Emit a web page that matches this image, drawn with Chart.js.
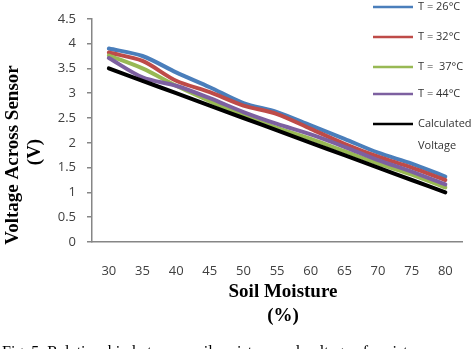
<!DOCTYPE html>
<html>
<head>
<meta charset="utf-8">
<script src="https://cdn.jsdelivr.net/npm/chart.js@4/dist/chart.umd.min.js"></script>
<style>
  html, body { margin: 0; padding: 0; background: #fff; overflow: hidden; }
  #wrap { width: 474px; height: 349px; }
</style>
</head>
<body>
<div id="wrap"><canvas id="moisture-chart" width="474" height="349"></canvas></div>
<script>
// soil moisture (%) on the x axis
const moisture = ["30", "35", "40", "45", "50", "55", "60", "65", "70", "75", "80"];
const yTicks = [0, 0.5, 1, 1.5, 2, 2.5, 3, 3.5, 4, 4.5];

// measured sensor voltage at each temperature (V)
const t26 = [3.9, 3.75, 3.42, 3.12, 2.8, 2.62, 2.35, 2.08, 1.8, 1.58, 1.32];
const t32 = [3.82, 3.65, 3.25, 3.02, 2.75, 2.58, 2.28, 1.98, 1.72, 1.5, 1.25];
const t37 = [3.76, 3.5, 3.15, 2.84, 2.55, 2.3, 2.08, 1.83, 1.58, 1.36, 1.1];
const t44 = [3.71, 3.32, 3.15, 2.9, 2.62, 2.38, 2.17, 1.92, 1.65, 1.42, 1.16];
const calculated = [3.5, 3.25, 3.0, 2.75, 2.5, 2.25, 2.0, 1.75, 1.5, 1.25, 1.0];

const seriesNames = ["T = 26°C", "T = 32°C", "T =  37°C", "T = 44°C", ["Calculated", "Voltage"]];
const seriesColors = ["#4a7ebb", "#be4b48", "#98b954", "#7d60a0", "#000000"];
const seriesData = [t26, t32, t37, t44, calculated];

function makeDataset(i) {
  return {
    label: Array.isArray(seriesNames[i]) ? seriesNames[i].join(" ") : seriesNames[i],
    data: seriesData[i],
    borderColor: seriesColors[i],
    borderWidth: 4,
    borderCapStyle: "round",
    borderJoinStyle: "round",
    pointRadius: 0,
    tension: 0.3,
    fill: false,
    order: seriesData.length - i
  };
}

// legend, axis titles and caption drawn straight onto the canvas
const decorations = {
  id: "decorations",
  afterDraw(chart) {
    const ctx = chart.ctx;
    ctx.save();

    // legend in the top-right corner
    const legendY = [7, 37, 67, 94, 124];
    ctx.font = "11px 'Open Sans'";
    ctx.textBaseline = "middle";
    ctx.textAlign = "left";
    seriesNames.forEach((name, i) => {
      ctx.strokeStyle = seriesColors[i];
      ctx.lineWidth = 2.5;
      ctx.beginPath();
      ctx.moveTo(373, legendY[i]);
      ctx.lineTo(413, legendY[i]);
      ctx.stroke();
      ctx.fillStyle = "#333";
      const lines = Array.isArray(name) ? name : [name];
      lines.forEach((txt, k) => ctx.fillText(txt, 418, legendY[i] + k * 22));
    });

    // y axis title (two lines, rotated)
    ctx.fillStyle = "#000";
    ctx.font = "bold 19px 'Liberation Serif'";
    ctx.textAlign = "center";
    ctx.save();
    ctx.translate(13, 155);
    ctx.rotate(-Math.PI / 2);
    ctx.fillText("Voltage Across Sensor", 0, 0);
    ctx.restore();
    ctx.save();
    ctx.translate(35, 152);
    ctx.rotate(-Math.PI / 2);
    ctx.fillText("(V)", 0, 0);
    ctx.restore();

    // x axis title
    ctx.fillText("Soil Moisture", 283, 292);
    ctx.fillText("(%)", 283, 316);

    // figure caption, running off the bottom edge
    ctx.font = "16px 'Liberation Serif'";
    ctx.textAlign = "left";
    ctx.textBaseline = "alphabetic";
    ctx.fillText("Fig. 5. Relationship between soil moisture and voltage of moisture sensor", 2, 357);

    ctx.restore();
  }
};

const ctx = document.getElementById("moisture-chart").getContext("2d");
new Chart(ctx, {
  type: "line",
  data: {
    labels: moisture,
    datasets: seriesData.map((_, i) => makeDataset(i))
  },
  options: {
    responsive: false,
    animation: false,
    layout: { padding: { top: 6, right: 5, left: 0, bottom: 0 } },
    plugins: {
      legend: { display: false },
      tooltip: { enabled: false }
    },
    scales: {
      x: {
        type: "category",
        offset: true,
        grid: { display: true, drawOnChartArea: false, drawTicks: false },
        border: { color: "#868686", width: 1.5 },
        ticks: {
          color: "#404040",
          font: { family: "'Open Sans'", size: 13 },
          padding: 21,
          maxRotation: 0,
          autoSkip: false
        },
        afterFit(scale) { scale.height = 107; }
      },
      y: {
        min: 0,
        max: 4.5,
        afterBuildTicks(scale) { scale.ticks = yTicks.map(v => ({ value: v })); },
        grid: { drawOnChartArea: false, drawTicks: true, tickLength: 5, color: "#868686", lineWidth: 1.5 },
        border: { color: "#868686", width: 1.5 },
        ticks: {
          color: "#404040",
          font: { family: "'Open Sans'", size: 13 },
          padding: 11,
          callback: v => String(v)
        },
        afterFit(scale) { scale.width = 92; }
      }
    }
  },
  plugins: [decorations]
});
</script>
</body>
</html>
